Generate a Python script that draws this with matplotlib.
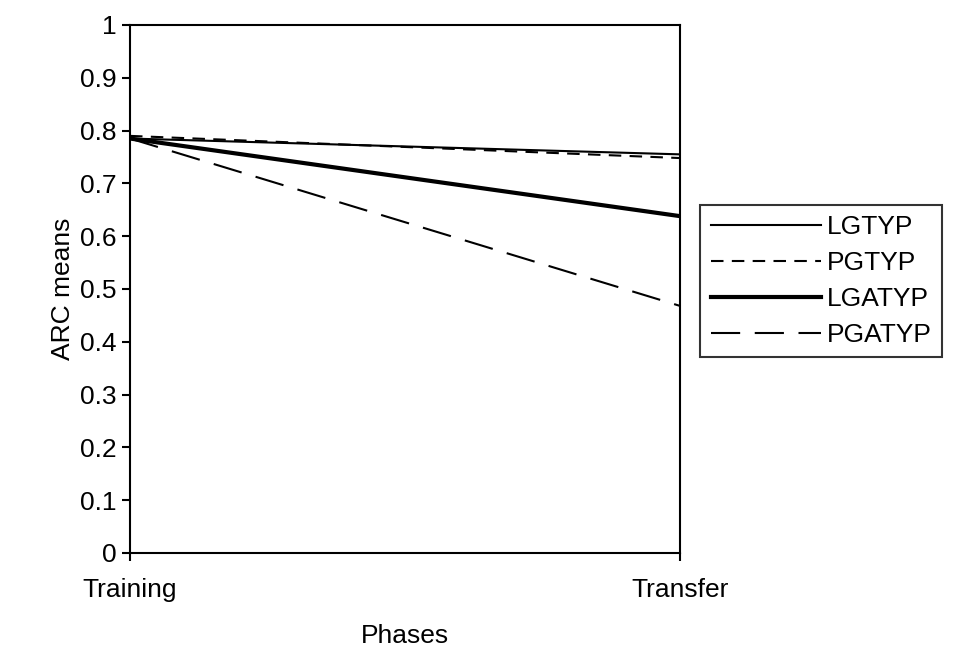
import matplotlib
matplotlib.use("Agg")
import matplotlib.pyplot as plt

plt.rcParams['font.family'] = ['Liberation Sans', 'DejaVu Sans']

phases = ["Training", "Transfer"]
LGTYP = [0.785, 0.755]
PGTYP = [0.790, 0.748]
LGATYP = [0.785, 0.638]
PGATYP = [0.785, 0.468]
yticks = [0, 0.1, 0.2, 0.3, 0.4, 0.5, 0.6, 0.7, 0.8, 0.9, 1]

fig = plt.figure(figsize=(9.6, 6.67), dpi=100)
ax = fig.add_axes([130/960, 1-553/667, 550/960, 528/667])
x = [0, 1]
ax.plot(x, LGTYP, color="black", lw=1.5, label="LGTYP")
ax.plot(x, PGTYP, color="black", lw=1.5, ls=(0, (6, 4)), label="PGTYP")
ax.plot(x, LGATYP, color="black", lw=3, label="LGATYP")
ax.plot(x, PGATYP, color="black", lw=1.5, ls=(0, (14, 7)), label="PGATYP")
ax.set_xlim(0, 1)
ax.set_ylim(0, 1)
ax.set_yticks(yticks)
ax.set_yticklabels([f"{v:g}" for v in yticks])
ax.set_xticks(x)
ax.set_xticklabels(phases)
ax.tick_params(axis="both", labelsize=19, direction="out", length=6, width=1.5)
ax.tick_params(axis="x", pad=12)
for s in ax.spines.values():
    s.set_linewidth(1.5)
ax.set_xlabel("Phases", fontsize=19, labelpad=16)
ax.set_ylabel("ARC means", fontsize=19)
leg = ax.legend(loc="center left", bbox_to_anchor=(700/960, 1-281/667),
                bbox_transform=fig.transFigure, fontsize=19, frameon=True,
                fancybox=False, edgecolor="black", handlelength=4.2,
                handletextpad=0.2, borderaxespad=0, labelspacing=0.45,
                borderpad=0.4)
leg.get_frame().set_linewidth(1.5)
fig.savefig("out.png", dpi=100)
